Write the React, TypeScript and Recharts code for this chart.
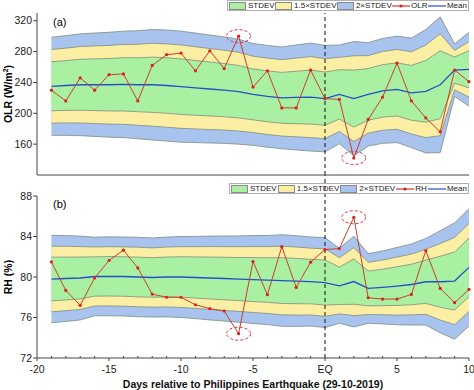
import {
  ComposedChart,
  Area,
  Line,
  XAxis,
  YAxis,
  ReferenceLine,
  ReferenceDot,
} from "recharts";

// days relative to the earthquake
const DAYS = [
  -19, -18, -17, -16, -15, -14, -13, -12, -11, -10, -9, -8, -7, -6, -5, -4, -3,
  -2, -1, 0, 1, 2, 3, 4, 5, 6, 7, 8, 9, 10,
];

// panel (a) OLR (W/m2)
const OLR = [
  230, 216, 246, 230, 250, 251, 216, 262, 276, 278, 255, 281, 258, 300, 234,
  255, 207, 207, 256, 219, 218, 142, 192, 221, 265, 216, 194, 176, 256, 241,
];
const OLR_MEAN = [
  235, 236, 237, 237, 237, 237.5, 237, 237, 236, 234.5, 233, 231.5, 230, 228,
  224.5, 222, 220, 220.5, 221, 219, 224.5, 219, 224.5, 229, 231, 226.5, 228.5,
  237, 256, 257,
];
const OLR_STD = [
  31.8, 32.3, 33, 33.5, 34, 34.5, 35, 35.8, 36, 36, 35.5, 35, 34.5, 34, 33, 33,
  33, 34, 35, 34.5, 32, 37, 33.5, 34, 34.5, 35.5, 40, 44, 17, 24,
];

// panel (b) RH (%)
const RH = [
  81.5, 78.67, 77.2, 79.9, 81.63, 82.65, 80.9, 78.31, 78.0, 78.0, 77.26, 76.87,
  76.64, 74.4, 81.53, 78.25, 83.0, 78.97, 81.46, 82.71, 82.81, 85.9, 77.95,
  77.82, 77.82, 78.28, 82.61, 78.87, 77.46, 78.77,
];
const RH_MEAN = [
  79.8, 79.85, 79.9, 80.05, 80.07, 80.05, 80.0, 79.95, 80.0, 80.0, 79.95, 79.9,
  79.85, 79.8, 79.75, 79.7, 79.65, 79.6, 79.55, 79.45, 79.13, 79.55, 78.87,
  78.97, 79.1, 79.26, 79.53, 79.53, 79.6, 80.95,
];
const RH_STD = [
  2.16, 2.12, 2.07, 1.94, 1.95, 1.95, 1.96, 1.95, 1.97, 2.0, 2.03, 2.07, 2.1,
  2.13, 2.17, 2.2, 2.26, 2.24, 2.2, 2.22, 1.85, 2.24, 1.72, 1.8, 1.91, 2.0, 2.14,
  2.52, 2.87, 2.9,
];

const X_TICKS = [
  -20, -19, -18, -17, -16, -15, -14, -13, -12, -11, -10, -9, -8, -7, -6, -5, -4,
  -3, -2, -1, 0, 1, 2, 3, 4, 5, 6, 7, 8, 9, 10,
];
const OLR_TICKS = [120, 160, 200, 240, 280, 320];
const RH_TICKS = [72, 76, 80, 84, 88];

// marked extremes (days)
const OLR_MARKS = [-6, 2];
const RH_MARKS = [-6, 2];

const GREEN = "#aaf0a2";
const YELLOW = "#fcefa3";
const BLUE = "#a8c4ee";
const EDGE = "#7d8c80";
const MEAN_C = "#2350c8";
const VAL_C = "#c8402e";
const DOT_C = "#e01e1e";
const AXIS_C = "#444";
const FONT = "'Liberation Sans', Arial, sans-serif";

const band = (m: number, s: number, k: number) => [m - k * s, m + k * s];

const olrData = DAYS.map((d, i) => ({
  d,
  val: OLR[i],
  mean: OLR_MEAN[i],
  s1: band(OLR_MEAN[i], OLR_STD[i], 1),
  s15: band(OLR_MEAN[i], OLR_STD[i], 1.5),
  s2: band(OLR_MEAN[i], OLR_STD[i], 2),
}));

const rhData = DAYS.map((d, i) => ({
  d,
  val: RH[i],
  mean: RH_MEAN[i],
  s1: band(RH_MEAN[i], RH_STD[i], 1),
  s15: band(RH_MEAN[i], RH_STD[i], 1.5),
  s2: band(RH_MEAN[i], RH_STD[i], 2),
}));

const ellipse = (p: any) => (
  <ellipse
    cx={p.cx}
    cy={p.cy}
    rx={12}
    ry={6.5}
    fill="none"
    stroke="#e4323c"
    strokeWidth={1}
    strokeDasharray="3 2"
  />
);

const DayTick = (p: any) => {
  const { x, y, payload } = p;
  const v = payload.value;
  const major = v % 5 === 0;
  const axisY = y - 8;
  return (
    <g>
      <line
        x1={x}
        x2={x}
        y1={axisY}
        y2={major ? axisY + 3 : axisY - 2}
        stroke={AXIS_C}
      />
      {major && (
        <text
          x={x}
          y={y}
          dy="0.71em"
          textAnchor="middle"
          fontSize={10.5}
          fill="#222"
        >
          {v === 0 ? "EQ" : v}
        </text>
      )}
    </g>
  );
};

const Swatch = ({ color }: { color: string }) => (
  <span
    style={{
      display: "inline-block",
      width: 17,
      height: 8,
      background: color,
      border: "1px solid #8a8a8a",
      boxSizing: "border-box",
      marginRight: 2,
    }}
  />
);

const LineKey = ({ color, dot }: { color: string; dot?: boolean }) => (
  <svg width={18} height={8} style={{ marginRight: 1 }}>
    <line x1={0} x2={18} y1={4} y2={4} stroke={color} strokeWidth={1.2} />
    {dot && <circle cx={9} cy={4} r={1.6} fill={DOT_C} />}
  </svg>
);

const LegendRow = ({ top, left, name }: any) => (
  <div
    style={{
      position: "absolute",
      top,
      left,
      width: 469 - left,
      height: 11,
      display: "flex",
      alignItems: "center",
      justifyContent: "space-between",
      fontSize: 8,
      color: "#222",
      boxSizing: "border-box",
      border: "1px solid #b0b0b0",
      padding: "0 1px",
      whiteSpace: "nowrap",
    }}
  >
    <span style={{ display: "flex", alignItems: "center" }}>
      <Swatch color={GREEN} />
      STDEV
    </span>
    <span style={{ display: "flex", alignItems: "center" }}>
      <Swatch color={YELLOW} />
      1.5×STDEV
    </span>
    <span style={{ display: "flex", alignItems: "center" }}>
      <Swatch color={BLUE} />
      2×STDEV
    </span>
    <span style={{ display: "flex", alignItems: "center" }}>
      <LineKey color={VAL_C} dot />
      {name}
    </span>
    <span style={{ display: "flex", alignItems: "center" }}>
      <LineKey color={MEAN_C} />
      Mean
    </span>
  </div>
);

const bands = () => [
  <Area
    key="s2"
    type="linear"
    dataKey="s2"
    fill={BLUE}
    fillOpacity={1}
    stroke={EDGE}
    strokeWidth={0.8}
    dot={false}
    activeDot={false}
    isAnimationActive={false}
  />,
  <Area
    key="s15"
    type="linear"
    dataKey="s15"
    fill={YELLOW}
    fillOpacity={1}
    stroke={EDGE}
    strokeWidth={0.8}
    dot={false}
    activeDot={false}
    isAnimationActive={false}
  />,
  <Area
    key="s1"
    type="linear"
    dataKey="s1"
    fill={GREEN}
    fillOpacity={1}
    stroke={EDGE}
    strokeWidth={0.8}
    dot={false}
    activeDot={false}
    isAnimationActive={false}
  />,
  <Line
    key="mean"
    type="linear"
    dataKey="mean"
    stroke={MEAN_C}
    strokeWidth={1.3}
    dot={false}
    activeDot={false}
    isAnimationActive={false}
  />,
  <Line
    key="val"
    type="linear"
    dataKey="val"
    stroke={VAL_C}
    strokeWidth={1}
    dot={{ r: 1.6, fill: DOT_C, stroke: DOT_C, strokeWidth: 0 }}
    activeDot={false}
    isAnimationActive={false}
  />,
];

const frame = (domain: number[]) => [
  <XAxis
    key="top"
    xAxisId="t"
    orientation="top"
    type="number"
    dataKey="d"
    domain={[-20, 10]}
    height={0}
    tick={false}
    tickLine={false}
    stroke={AXIS_C}
  />,
  <YAxis
    key="right"
    yAxisId="r"
    orientation="right"
    type="number"
    domain={domain}
    width={0}
    tick={false}
    tickLine={false}
    stroke={AXIS_C}
  />,
];

export default function App() {
  return (
    <div
      style={{
        position: "absolute",
        left: 0,
        top: 0,
        width: 474,
        height: 390,
        background: "#fff",
        fontFamily: FONT,
      }}
    >
      <div style={{ position: "absolute", left: 0, top: 0 }}>
        <ComposedChart
          width={474}
          height={180}
          data={olrData}
          margin={{ top: 13, right: 5, bottom: 0, left: 0 }}
        >
          {bands()}
          <XAxis
            dataKey="d"
            type="number"
            domain={[-20, 10]}
            ticks={X_TICKS}
            height={5}
            tick={false}
            tickLine={false}
            stroke={AXIS_C}
          />
          <YAxis
            type="number"
            domain={[120, 330]}
            ticks={OLR_TICKS}
            width={37}
            tickSize={4}
            tickMargin={1}
            tick={{ fontSize: 10.5, fill: "#222" }}
            stroke={AXIS_C}
          />
          {frame([120, 330])}
          <ReferenceLine
            x={0}
            stroke="#111"
            strokeWidth={1}
            strokeDasharray="4 3"
          />
          {OLR_MARKS.map((d) => (
            <ReferenceDot
              key={d}
              x={d}
              y={OLR[DAYS.indexOf(d)]}
              r={12}
              shape={ellipse}
            />
          ))}
        </ComposedChart>
      </div>

      <div style={{ position: "absolute", left: 0, top: 170 }}>
        <ComposedChart
          width={474}
          height={220}
          data={rhData}
          margin={{ top: 26, right: 5, bottom: 0, left: 0 }}
        >
          {bands()}
          <XAxis
            dataKey="d"
            type="number"
            domain={[-20, 10]}
            ticks={X_TICKS}
            interval={0}
            height={32}
            tickSize={3}
            tickMargin={5}
            tickLine={false}
            tick={<DayTick />}
            stroke={AXIS_C}
            label={{
              value: "Days relative to Philippines Earthquake (29-10-2019)",
              position: "insideBottom",
              offset: 2,
              fontSize: 10.5,
              fontWeight: "bold",
              fill: "#111",
            }}
          />
          <YAxis
            type="number"
            domain={[72, 88]}
            ticks={RH_TICKS}
            width={37}
            tickSize={4}
            tickMargin={1}
            tick={{ fontSize: 10.5, fill: "#222" }}
            stroke={AXIS_C}
          />
          {frame([72, 88])}
          <ReferenceLine
            segment={[
              { x: 0, y: 72 },
              { x: 0, y: 90.05 },
            ]}
            ifOverflow="visible"
            stroke="#111"
            strokeWidth={1}
            strokeDasharray="4 3"
          />
          {RH_MARKS.map((d) => (
            <ReferenceDot
              key={d}
              x={d}
              y={RH[DAYS.indexOf(d)]}
              r={12}
              shape={ellipse}
            />
          ))}
        </ComposedChart>
      </div>

      <LegendRow top={0} left={227} name="OLR" />
      <LegendRow top={183} left={229} name="RH" />

      <div style={{ position: "absolute", left: 53, top: 16, fontSize: 11 }}>
        (a)
      </div>
      <div style={{ position: "absolute", left: 53, top: 198, fontSize: 11 }}>
        (b)
      </div>

      <div
        style={{
          position: "absolute",
          left: 8,
          top: 94,
          transform: "translate(-50%, -50%) rotate(-90deg)",
          whiteSpace: "nowrap",
          fontWeight: "bold",
          fontSize: 10.5,
          lineHeight: "12px",
        }}
      >
        OLR (W/m
        <span style={{ fontSize: 7, verticalAlign: "super", lineHeight: 0 }}>
          2
        </span>
        )
      </div>
      <div
        style={{
          position: "absolute",
          left: 8,
          top: 277,
          transform: "translate(-50%, -50%) rotate(-90deg)",
          whiteSpace: "nowrap",
          fontWeight: "bold",
          fontSize: 10.5,
          lineHeight: "12px",
        }}
      >
        RH (%)
      </div>
    </div>
  );
}
